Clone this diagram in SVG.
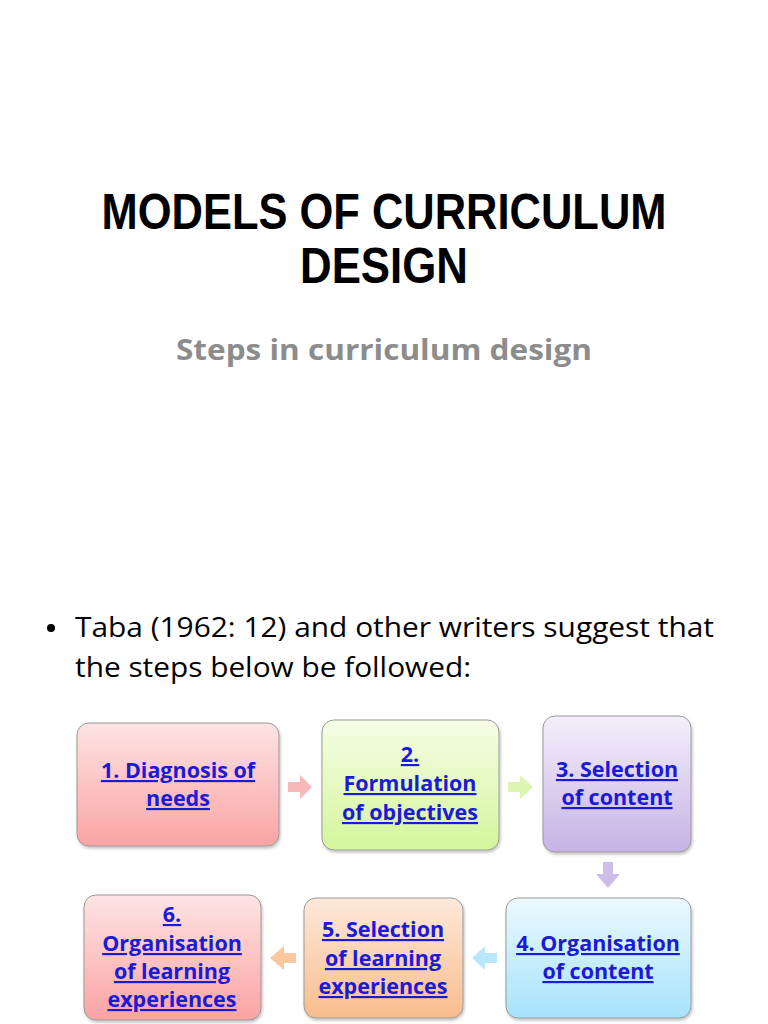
<svg xmlns="http://www.w3.org/2000/svg" width="768" height="1024" viewBox="0 0 768 1024">
<defs>
<linearGradient id="gPink" x1="0" y1="0" x2="0" y2="1"><stop offset="0" stop-color="#fde4e4"/><stop offset="1" stop-color="#fba3a3"/></linearGradient>
<linearGradient id="gGreen" x1="0" y1="0" x2="0" y2="1"><stop offset="0" stop-color="#f6fde6"/><stop offset="1" stop-color="#d4f59c"/></linearGradient>
<linearGradient id="gPurple" x1="0" y1="0" x2="0" y2="1"><stop offset="0" stop-color="#f4effb"/><stop offset="1" stop-color="#c6b3e4"/></linearGradient>
<linearGradient id="gBlue" x1="0" y1="0" x2="0" y2="1"><stop offset="0" stop-color="#ecf9fe"/><stop offset="1" stop-color="#a6e3fb"/></linearGradient>
<linearGradient id="gOrange" x1="0" y1="0" x2="0" y2="1"><stop offset="0" stop-color="#fde9da"/><stop offset="1" stop-color="#f8bd8c"/></linearGradient>
<filter id="sh" x="-10%" y="-10%" width="130%" height="130%"><feDropShadow dx="1" dy="2" stdDeviation="1.5" flood-color="#000" flood-opacity="0.25"/></filter>
</defs>
<style>
.box{stroke:#9a9a9a;stroke-width:1;filter:url(#sh)}
.lbl{font-family:"Open Sans","Liberation Sans",sans-serif;font-weight:bold;font-size:21.5px;fill:#1a1ad8;text-anchor:middle;text-decoration:underline}
.title{font-family:"Liberation Sans",sans-serif;font-weight:bold;font-size:50px;fill:#000;text-anchor:middle}
.sub{font-family:"Open Sans","Liberation Sans",sans-serif;font-weight:bold;font-size:29px;fill:#8c8c8c;text-anchor:middle}
.body{font-family:"Open Sans","Liberation Sans",sans-serif;font-size:28px;fill:#000}
</style>
<rect width="768" height="1024" fill="#fff"/>
<text class="title" x="384" y="229" textLength="565" lengthAdjust="spacingAndGlyphs">MODELS OF CURRICULUM</text>
<text class="title" x="384" y="283" textLength="168" lengthAdjust="spacingAndGlyphs">DESIGN</text>
<text class="sub" x="384" y="360" textLength="416" lengthAdjust="spacingAndGlyphs">Steps in curriculum design</text>
<circle cx="51" cy="628" r="4" fill="#000"/>
<text class="body" x="75" y="637" textLength="639" lengthAdjust="spacingAndGlyphs">Taba (1962: 12) and other writers suggest that</text>
<text class="body" x="75" y="677" textLength="396" lengthAdjust="spacingAndGlyphs">the steps below be followed:</text>

<g id="connectors">
<path d="M288,782 H300 V775 L312,787 L300,799 V792 H288 Z" fill="#f8b8b8"/>
<path d="M508,782 H520 V775 L533,787 L520,799 V792 H508 Z" fill="#dcf5b0"/>
<path d="M603,862 V874 H596 L608,888 L620,874 H613 V862 Z" fill="#cdbde8"/>
<path d="M497,953 H485 V946 L472,958 L485,970 V963 H497 Z" fill="#b8e8fb"/>
<path d="M296,953 H284 V946 L270,958 L284,970 V963 H296 Z" fill="#f9c7a0"/>
</g>

<g id="n1">
<rect class="box" x="77" y="723" width="202" height="123" rx="12" fill="url(#gPink)"/>
<text class="lbl" x="178" y="778">1. Diagnosis of</text>
<text class="lbl" x="178" y="806">needs</text>
</g>
<g id="n2">
<rect class="box" x="322" y="720" width="177" height="130" rx="12" fill="url(#gGreen)"/>
<text class="lbl" x="410" y="762">2.</text>
<text class="lbl" x="410" y="791">Formulation</text>
<text class="lbl" x="410" y="820">of objectives</text>
</g>
<g id="n3">
<rect class="box" x="543" y="716" width="148" height="136" rx="12" fill="url(#gPurple)"/>
<text class="lbl" x="617" y="777">3. Selection</text>
<text class="lbl" x="617" y="805">of content</text>
</g>
<g id="n4">
<rect class="box" x="506" y="898" width="185" height="120" rx="12" fill="url(#gBlue)"/>
<text class="lbl" x="598" y="951">4. Organisation</text>
<text class="lbl" x="598" y="979">of content</text>
</g>
<g id="n5">
<rect class="box" x="304" y="898" width="159" height="120" rx="12" fill="url(#gOrange)"/>
<text class="lbl" x="383" y="937">5. Selection</text>
<text class="lbl" x="383" y="966">of learning</text>
<text class="lbl" x="383" y="994">experiences</text>
</g>
<g id="n6">
<rect class="box" x="84" y="895" width="177" height="125" rx="12" fill="url(#gPink)"/>
<text class="lbl" x="172" y="922">6.</text>
<text class="lbl" x="172" y="951">Organisation</text>
<text class="lbl" x="172" y="979">of learning</text>
<text class="lbl" x="172" y="1007">experiences</text>
</g>
</svg>
